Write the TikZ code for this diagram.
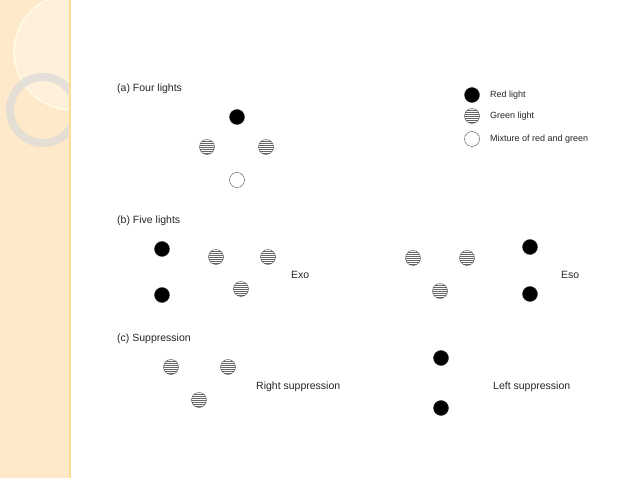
\documentclass[tikz,border=0pt]{standalone}
\usepackage{fontspec}
\setmainfont{Liberation Sans}
\begin{document}
\begin{tikzpicture}[x=1pt,y=-1pt,
  lbl/.style={anchor=west,inner sep=0,font=\fontsize{10.5}{12}\selectfont,text=black!85},
  lg/.style={anchor=west,inner sep=0,font=\fontsize{9}{11}\selectfont,text=black!85},
  red/.style={circle,fill=black,draw=black!80,minimum size=15,inner sep=0},
  mix/.style={circle,fill=white,draw=black!70,minimum size=15,inner sep=0},
  green/.style={circle,draw=black!70,minimum size=15,inner sep=0,
    path picture={\foreach \k in {-6,-4,...,6}{\draw[black!60,line width=0.6] ([yshift=\k]path picture bounding box.west) -- ([yshift=\k]path picture bounding box.east);}}}]
\useasboundingbox (0,0) rectangle (638,478);
\fill[white] (0,0) rectangle (638,478);
\begin{scope}
\clip (0,0) rectangle (70,478);
\fill[orange!20!yellow!25!white,fill=yellow!15!orange!18] (0,0) rectangle (70,478);
\fill[white,opacity=0.3] (72,52) circle (58);
\draw[white!90!yellow,line width=1.2] (72,52) circle (58);
\draw[black!15,opacity=0.7,line width=8] (43,110) circle (33);
\end{scope}
\draw[yellow!40!orange!40,line width=1.2] (70,0) -- (70,478);

\node[lbl] (ta) at (117,89) {(a) Four lights};
\node[red] (a1) at (237,117) {};
\node[green] (a2) at (207,147) {};
\node[green] (a3) at (266,147) {};
\node[mix] (a4) at (237,180) {};

\node[red] (l1) at (472,95) {};
\node[lg] (lt1) at (490,95) {Red light};
\node[green] (l2) at (472,116) {};
\node[lg] (lt2) at (490,116) {Green light};
\node[mix] (l3) at (472,139) {};
\node[lg] (lt3) at (490,139) {Mixture of red and green};

\node[lbl] (tb) at (117,221) {(b) Five lights};
\node[red] (b1) at (162,249) {};
\node[red] (b2) at (162,295) {};
\node[green] (b3) at (216,257) {};
\node[green] (b4) at (268,257) {};
\node[green] (b5) at (241,289) {};
\node[lbl] (exo) at (291,275) {Exo};
\node[green] (b6) at (413,258) {};
\node[green] (b7) at (467,258) {};
\node[green] (b8) at (440,291) {};
\node[red] (b9) at (530,247) {};
\node[red] (b10) at (530,294) {};
\node[lbl] (eso) at (561,275) {Eso};

\node[lbl] (tc) at (117,339) {(c) Suppression};
\node[green] (c1) at (171,367) {};
\node[green] (c2) at (228,367) {};
\node[green] (c3) at (199,400) {};
\node[lbl] (rs) at (256,387) {Right suppression};
\node[red] (c4) at (441,358) {};
\node[red] (c5) at (441,408) {};
\node[lbl] (ls) at (493,387) {Left suppression};
\end{tikzpicture}
\end{document}
